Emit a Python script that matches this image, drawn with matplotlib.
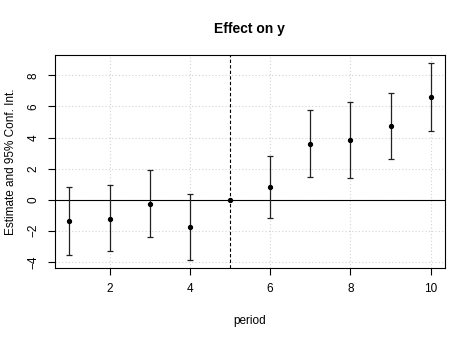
import matplotlib
matplotlib.use("Agg")
import matplotlib.pyplot as plt
import numpy as np

plt.rcParams['font.family'] = ['Liberation Sans', 'DejaVu Sans']

period = [1, 2, 3, 4, 5, 6, 7, 8, 9, 10]
estimate = [-1.39, -1.22, -0.26, -1.75, 0.0, 0.81, 3.61, 3.82, 4.74, 6.62]
ci_low = [-3.55, -3.33, -2.42, -3.89, 0.0, -1.20, 1.47, 1.39, 2.61, 4.44]
ci_high = [0.79, 0.92, 1.92, 0.34, 0.0, 2.82, 5.75, 6.26, 6.88, 8.80]
xticks = [2, 4, 6, 8, 10]
yticks = [-4, -2, 0, 2, 4, 6, 8]

fig = plt.figure(figsize=(4.74, 3.38), dpi=100)
ax = fig.add_axes([0.116, 0.207, 0.823, 0.630])

x = np.array(period)
est = np.array(estimate)
lo = np.array(ci_low)
hi = np.array(ci_high)

ax.grid(True, color='#d3d3d3', linestyle=(0, (1, 2)), linewidth=0.8)
ax.set_axisbelow(True)
ax.axhline(0, color='black', linewidth=0.8, zorder=2)
ax.axvline(5, color='black', linewidth=0.8, linestyle=(0, (3, 2)), zorder=2)

mask = hi > lo
ax.errorbar(x[mask], est[mask], yerr=[est[mask] - lo[mask], hi[mask] - est[mask]],
            fmt='none', ecolor='#222222', elinewidth=0.9, capsize=2.2, capthick=0.9, zorder=3)
ax.plot(x, est, 'o', color='black', markersize=2.8, zorder=4)

rng_x = 10 - 1
ax.set_xlim(1 - 0.04 * rng_x, 10 + 0.04 * rng_x)
ymin, ymax = min(ci_low), max(ci_high)
r = ymax - ymin
ax.set_ylim(ymin - 0.04 * r, ymax + 0.04 * r)

ax.set_xticks(xticks)
ax.set_yticks(yticks)
ax.tick_params(direction='out', length=5, width=0.8, labelsize=8.5, pad=6, colors='black')
for lab in ax.get_yticklabels():
    lab.set_rotation(90)
    lab.set_va('center')
for s in ax.spines.values():
    s.set_linewidth(0.8)
    s.set_color('black')

ax.set_xlabel('period', fontsize=8.5, labelpad=14)
ax.set_ylabel('Estimate and 95% Conf. Int.', fontsize=8.5, labelpad=8)
fig.text(0.527, 0.915, 'Effect on y', ha='center', va='center', fontsize=10, fontweight='bold')

fig.savefig('out.png', dpi=100)
